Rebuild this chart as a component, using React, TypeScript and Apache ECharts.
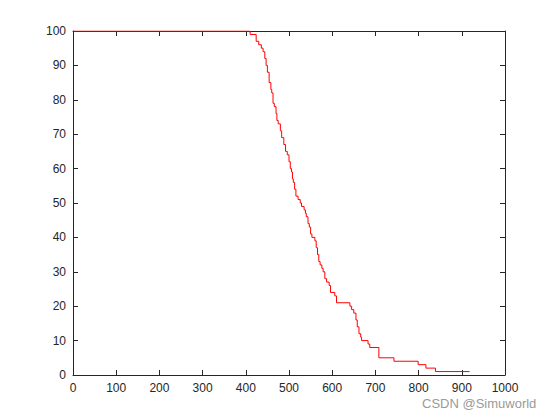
import React, { useEffect, useRef } from "react";
import * as echarts from "echarts";

const xValues = [0, 410, 424, 430, 436, 440, 444, 447, 450, 454, 458, 460, 463, 466, 470, 472, 475, 480, 483, 488, 492, 496, 500, 503, 506, 508, 510, 513, 516, 521, 526, 529, 535, 538, 540, 544, 547, 550, 553, 560, 563, 566, 569, 572, 576, 579, 583, 587, 593, 596, 606, 610, 641, 645, 650, 655, 658, 662, 666, 668, 683, 687, 708, 743, 799, 817, 839, 918];
const yValues = [100, 99, 97, 96, 95, 94, 92, 90, 88, 85, 83, 82, 79, 78, 76, 74, 73, 71, 69, 67, 65, 64, 62, 60, 59, 57, 56, 54, 52, 51, 50, 49, 48, 47, 46, 44, 43, 41, 40, 39, 37, 35, 33, 32, 31, 30, 28, 27, 26, 24, 23, 21, 20, 19, 18, 16, 14, 12, 11, 10, 9, 8, 5, 4, 3, 2, 1, 1];
const watermark = "CSDN @Simuworld";

export default function App() {
  const ref = useRef<HTMLDivElement>(null);
  useEffect(() => {
    if (!ref.current) return;
    const chart = echarts.init(ref.current, null, { renderer: "svg" });
    const axisColor = "#262626";
    const font = "'Liberation Sans', Arial, sans-serif";
    const baseAxis = {
      axisLine: { show: true, onZero: false, lineStyle: { color: axisColor, width: 1 } },
      axisTick: { show: true, inside: true, length: 5, lineStyle: { color: axisColor } },
      splitLine: { show: false },
    };
    const fmt = (v: number) => String(v);
    chart.setOption({
      animation: false,
      backgroundColor: "#ffffff",
      grid: { left: 73, right: 55, top: 31, bottom: 45 },
      xAxis: [
        {
          type: "value", min: 0, max: 1000, interval: 100, position: "bottom",
          ...baseAxis,
          axisLabel: { color: axisColor, fontSize: 12, fontFamily: font, margin: 7, formatter: fmt },
        },
        {
          type: "value", min: 0, max: 1000, interval: 100, position: "top",
          ...baseAxis,
          axisLabel: { show: false },
        },
      ],
      yAxis: [
        {
          type: "value", min: 0, max: 100, interval: 10, position: "left",
          ...baseAxis,
          axisLabel: { color: axisColor, fontSize: 12, fontFamily: font, margin: 7, formatter: fmt },
        },
        {
          type: "value", min: 0, max: 100, interval: 10, position: "right",
          ...baseAxis,
          axisLabel: { show: false },
        },
      ],
      series: [
        {
          type: "line",
          step: "end",
          showSymbol: false,
          symbol: "none",
          data: xValues.map((x, i) => [x, yValues[i]]),
          lineStyle: { color: "#ff0000", width: 1 },
          itemStyle: { color: "#ff0000" },
        },
      ],
      graphic: [
        {
          type: "text",
          left: 422,
          top: 397,
          style: { text: watermark, fill: "#9a9a9a", fontSize: 13, fontFamily: font },
        },
      ],
    });
    return () => chart.dispose();
  }, []);
  return <div ref={ref} style={{ width: 560, height: 420, position: "absolute", left: 0, top: 0 }} />;
}
